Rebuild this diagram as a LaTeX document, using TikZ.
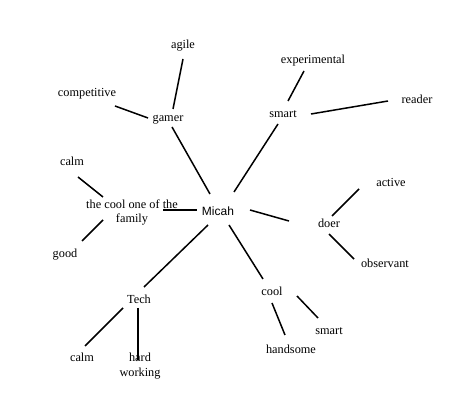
\documentclass[tikz,border=0pt]{standalone}
\usepackage{fontspec}
\setmainfont{Liberation Serif}
\newfontfamily\micahfont{Liberation Sans}
\begin{document}
\begin{tikzpicture}[x=1pt,y=-1pt,
  word/.style={inner sep=0pt,yshift=-2pt,font=\fontsize{12.3}{14.6}\selectfont,text height=8.5pt,text depth=2.5pt},
  multi/.style={inner sep=0pt,yshift=-2pt,font=\fontsize{12.3}{14.6}\selectfont,align=center},
  centre/.style={inner sep=0pt,yshift=-2pt,font=\micahfont\fontsize{12}{14}\selectfont,text height=8.5pt,text depth=2.5pt},
  link/.style={line width=1.5pt}]
\useasboundingbox[fill=white] (0,0) rectangle (474,411);
\node[centre] (micah) at (218,211) {Micah};
\node[word] (agile) at (183,44) {agile};
\node[word] (competitive) at (87,92) {competitive};
\node[word] (gamer) at (168,117) {gamer};
\node[word] (calmA) at (72,161) {calm};
\node[multi] (family) at (132,210.5) {the cool one of the\\family};
\node[word] (good) at (65,253) {good};
\node[word] (experimental) at (313,59) {experimental};
\node[word] (smartA) at (283,113) {smart};
\node[word] (reader) at (417,99) {reader};
\node[word] (active) at (391,182) {active};
\node[word] (doer) at (329,223) {doer};
\node[word] (observant) at (385,263) {observant};
\node[word] (tech) at (139,299) {Tech};
\node[word] (calmB) at (82,357) {calm};
\node[multi] (hard) at (140,364) {hard\\working};
\node[word] (cool) at (272,291) {cool};
\node[word] (smartB) at (329,330) {smart};
\node[word] (handsome) at (291,349) {handsome};

\draw[link] ([shift={(0,13)}]agile.center) -- ([shift={(5,-10)}]gamer.center);
\draw[link] ([shift={(28,12)}]competitive.center) -- ([shift={(-20,-1)}]gamer.center);
\draw[link] ([shift={(4,8)}]gamer.center) -- ([shift={(-8,-19)}]micah.center);
\draw[link] ([shift={(6,14)}]calmA.center) -- ([shift={(-29,-15.5)}]family.center);
\draw[link] ([shift={(-29,7.5)}]family.center) -- ([shift={(17,-14)}]good.center);
\draw[link] ([shift={(31,-2.5)}]family.center) -- ([shift={(-21,-3)}]micah.center);
\draw[link] ([shift={(16,-21)}]micah.center) -- ([shift={(-5,9)}]smartA.center);
\draw[link] ([shift={(-9,10)}]experimental.center) -- ([shift={(5,-14)}]smartA.center);
\draw[link] ([shift={(28,-1)}]smartA.center) -- ([shift={(-29,0)}]reader.center);
\draw[link] ([shift={(32,-3)}]micah.center) -- ([shift={(-40,-4)}]doer.center);
\draw[link] ([shift={(3,-9)}]doer.center) -- ([shift={(-32,5)}]active.center);
\draw[link] ([shift={(0,9)}]doer.center) -- ([shift={(-31,-6)}]observant.center);
\draw[link] ([shift={(-10,12)}]micah.center) -- ([shift={(5,-14)}]tech.center);
\draw[link] ([shift={(-16,7)}]tech.center) -- ([shift={(3,-13)}]calmB.center);
\draw[link] ([shift={(-1,7)}]tech.center) -- ([shift={(-2,-6)}]hard.center);
\draw[link] ([shift={(11,12)}]micah.center) -- ([shift={(-9,-14)}]cool.center);
\draw[link] ([shift={(25,3)}]cool.center) -- ([shift={(-11,-14)}]smartB.center);
\draw[link] ([shift={(0,10)}]cool.center) -- ([shift={(-6,-16)}]handsome.center);
\end{tikzpicture}
\end{document}
